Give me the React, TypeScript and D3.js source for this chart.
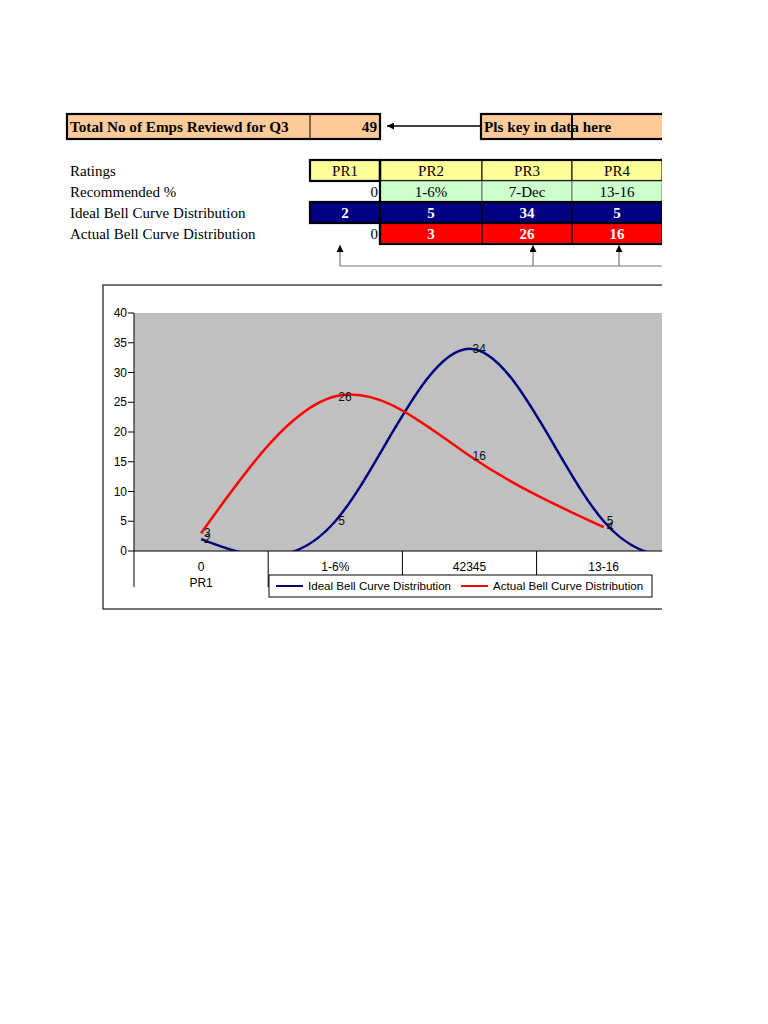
import React from "react";
import * as d3 from "d3";

// ---------- data ----------
const ratings = ["PR1", "PR2", "PR3", "PR4"];
const recommended = ["0", "1-6%", "7-Dec", "13-16"];
const idealTable = [2, 5, 34, 5];
const actualTable = [0, 3, 26, 16];
const totalReviewed = 49;

const chartCategories = ["0", "1-6%", "42345", "13-16", "17-20"];
const idealSeries = [2, 5, 34, 5, 2];
const actualSeries = [3, 26, 16, 4];
const yTicks = [0, 5, 10, 15, 20, 25, 30, 35, 40];
const seriesNames = ["Ideal Bell Curve Distribution", "Actual Bell Curve Distribution"];
const seriesColors = ["#000080", "#FF0000"];
const rowLabels = ["Ratings", "Recommended %", "Ideal Bell Curve Distribution", "Actual Bell Curve Distribution"];

const SERIF = "'Liberation Serif', 'Times New Roman', serif";
const SANS = "'Liberation Sans', Arial, sans-serif";

export default function App() {
  // table layout
  const colEdges = [310, 380, 482, 572, 662];
  const rowTops = [160, 181, 202, 223];
  const rowH = 21;
  const TF = 15;

  // chart scales
  const x = d3.scaleBand<string>().domain(chartCategories).range([134, 805]).paddingInner(0).paddingOuter(0);
  const y = d3.scaleLinear().domain([0, 40]).range([551, 313]);
  const cx = (i: number) => (x(chartCategories[i]) as number) + x.bandwidth() / 2;

  const line = d3
    .line<number>()
    .x((_, i) => cx(i))
    .y((d) => y(d))
    .curve(d3.curveNatural);

  const idealPath = line(idealSeries) || "";
  const actualPath = line(actualSeries) || "";

  const boundaries = chartCategories.map((c) => x(c) as number).concat([805]);

  return (
    <svg
      width={768}
      height={1024}
      style={{ position: "absolute", left: 0, top: 0, background: "#fff" }}
    >
      <defs>
        <clipPath id="page">
          <rect x={0} y={0} width={662} height={1024} />
        </clipPath>
        <clipPath id="plot">
          <rect x={134} y={313} width={671} height={238} />
        </clipPath>
        <marker id="ah" viewBox="0 0 10 10" refX="10" refY="5" markerWidth="7" markerHeight="7" orient="auto-start-reverse" markerUnits="userSpaceOnUse">
          <path d="M0,0 L10,5 L0,10 z" fill="#000" />
        </marker>
      </defs>
      <rect x={0} y={0} width={768} height={1024} fill="#fff" />
      <g clipPath="url(#page)">
        {/* ---------- top row ---------- */}
        <rect x={67} y={114} width={243} height={25} fill="#FFCC99" />
        <rect x={310} y={114} width={70} height={25} fill="#FFCC99" />
        <line x1={310} y1={114} x2={310} y2={139} stroke="#000" strokeWidth={1} />
        <rect x={67} y={114} width={313} height={25} fill="none" stroke="#000" strokeWidth={2.2} />
        <text x={70} y={132} fontFamily={SERIF} fontWeight="bold" fontSize={15.2}>
          Total No of Emps Reviewd for Q3
        </text>
        <text x={377} y={132} fontFamily={SERIF} fontWeight="bold" fontSize={15.2} textAnchor="end">
          {totalReviewed}
        </text>
        <line x1={481} y1={126} x2={387} y2={126} stroke="#000" strokeWidth={1.6} markerEnd="url(#ah)" />
        <rect x={481} y={114} width={190} height={25} fill="#FFCC99" />
        <text x={484} y={132} fontFamily={SERIF} fontWeight="bold" fontSize={15.2}>
          Pls key in data here
        </text>
        <line x1={572} y1={114} x2={572} y2={139} stroke="#000" strokeWidth={2} />
        <rect x={481} y={114} width={190} height={25} fill="none" stroke="#000" strokeWidth={2.2} />

        {/* ---------- row labels ---------- */}
        {rowLabels.map((l, i) => (
          <text key={l} x={70} y={rowTops[i] + 15.5} fontFamily={SERIF} fontSize={TF}>
            {l}
          </text>
        ))}

        {/* header row */}
        {ratings.map((r, i) => (
          <g key={r}>
            <rect x={colEdges[i]} y={rowTops[0]} width={colEdges[i + 1] - colEdges[i]} height={rowH} fill="#FFFF99" stroke="#000" strokeWidth={1} />
            <text x={(colEdges[i] + colEdges[i + 1]) / 2} y={rowTops[0] + 15.5} fontFamily={SERIF} fontSize={TF} textAnchor="middle">
              {r}
            </text>
          </g>
        ))}
        <rect x={310} y={rowTops[0]} width={70} height={rowH} fill="none" stroke="#000" strokeWidth={2.2} />
        <rect x={380} y={rowTops[0]} width={300} height={rowH} fill="none" stroke="#000" strokeWidth={2.2} />

        {/* recommended row */}
        {recommended.map((r, i) => (
          <g key={r}>
            {i > 0 && (
              <rect x={colEdges[i]} y={rowTops[1]} width={colEdges[i + 1] - colEdges[i]} height={rowH} fill="#CCFFCC" stroke="#555" strokeWidth={0.8} />
            )}
            <text
              x={i === 0 ? colEdges[1] - 2 : (colEdges[i] + colEdges[i + 1]) / 2}
              y={rowTops[1] + 15.5}
              fontFamily={SERIF}
              fontSize={TF}
              textAnchor={i === 0 ? "end" : "middle"}
            >
              {r}
            </text>
          </g>
        ))}

        {/* ideal row */}
        {idealTable.map((v, i) => (
          <g key={"i" + i}>
            <rect x={colEdges[i]} y={rowTops[2]} width={colEdges[i + 1] - colEdges[i]} height={rowH} fill="#000080" stroke="#000" strokeWidth={1} />
            <text x={(colEdges[i] + colEdges[i + 1]) / 2} y={rowTops[2] + 15.5} fontFamily={SERIF} fontWeight="bold" fontSize={TF} fill="#fff" textAnchor="middle">
              {v}
            </text>
          </g>
        ))}
        <rect x={310} y={rowTops[2]} width={370} height={rowH} fill="none" stroke="#000" strokeWidth={2.2} />

        {/* actual row */}
        {actualTable.map((v, i) => (
          <g key={"a" + i}>
            {i > 0 && (
              <rect x={colEdges[i]} y={rowTops[3]} width={colEdges[i + 1] - colEdges[i]} height={rowH} fill="#FF0000" stroke="#000" strokeWidth={1} />
            )}
            <text
              x={i === 0 ? colEdges[1] - 2 : (colEdges[i] + colEdges[i + 1]) / 2}
              y={rowTops[3] + 15.5}
              fontFamily={SERIF}
              fontWeight={i === 0 ? "normal" : "bold"}
              fontSize={TF}
              fill={i === 0 ? "#000" : "#fff"}
              textAnchor={i === 0 ? "end" : "middle"}
            >
              {v}
            </text>
          </g>
        ))}
        <rect x={380} y={rowTops[3]} width={300} height={rowH} fill="none" stroke="#000" strokeWidth={2.2} />
        <line x1={380} y1={rowTops[0]} x2={380} y2={rowTops[3] + rowH} stroke="#000" strokeWidth={2.2} />

        {/* connector arrows */}
        <line x1={340} y1={266} x2={700} y2={266} stroke="#777" strokeWidth={1.2} />
        {[340, 533, 619].map((ax) => (
          <line key={ax} x1={ax} y1={266} x2={ax} y2={245} stroke="#777" strokeWidth={1.2} markerEnd="url(#ah)" />
        ))}

        {/* ---------- chart ---------- */}
        <rect x={103} y={285} width={720} height={324} fill="#fff" stroke="#444" strokeWidth={1.5} />
        <rect x={134} y={313} width={671} height={238} fill="#C0C0C0" />

        {/* y axis */}
        <line x1={134} y1={313} x2={134} y2={587} stroke="#000" strokeWidth={1} />
        {yTicks.map((t) => (
          <g key={t}>
            <line x1={128} y1={y(t)} x2={134} y2={y(t)} stroke="#000" strokeWidth={1} />
            <text x={127} y={y(t)} dy="0.35em" fontFamily={SANS} fontSize={12} textAnchor="end">
              {t}
            </text>
          </g>
        ))}

        {/* x axis */}
        <line x1={134} y1={551} x2={805} y2={551} stroke="#000" strokeWidth={1} />
        {boundaries.slice(1).map((b, i) => (
          <line key={b} x1={b} y1={551} x2={b} y2={i === 0 ? 587 : 575} stroke="#000" strokeWidth={1} />
        ))}
        {chartCategories.map((c, i) => (
          <text key={c} x={cx(i)} y={570.5} fontFamily={SANS} fontSize={12} textAnchor="middle">
            {c}
          </text>
        ))}
        <text x={cx(0)} y={587} fontFamily={SANS} fontSize={12} textAnchor="middle">
          {ratings[0]}
        </text>

        {/* series */}
        <g clipPath="url(#plot)">
          <path d={idealPath} fill="none" stroke={seriesColors[0]} strokeWidth={2.5} />
          <path d={actualPath} fill="none" stroke={seriesColors[1]} strokeWidth={2.5} />
        </g>
        {idealSeries.map((v, i) => (
          <text key={"il" + i} x={cx(i) + 3} y={y(v)} dy="0.35em" fontFamily={SANS} fontSize={12} fill="#111">
            {v}
          </text>
        ))}
        {actualSeries.map((v, i) => (
          <text key={"al" + i} x={cx(i) + 3} y={y(v)} dy="0.35em" fontFamily={SANS} fontSize={12} fill="#111">
            {v}
          </text>
        ))}

        {/* legend */}
        <rect x={269} y={575} width={383} height={22} fill="#fff" stroke="#000" strokeWidth={1} />
        {seriesNames.map((n, i) => {
          const lx = i === 0 ? 276 : 461;
          return (
            <g key={n}>
              <line x1={lx} y1={586} x2={lx + 27} y2={586} stroke={seriesColors[i]} strokeWidth={2} />
              <text x={lx + 32} y={586} dy="0.35em" fontFamily={SANS} fontSize={11.6}>
                {n}
              </text>
            </g>
          );
        })}
      </g>
    </svg>
  );
}
